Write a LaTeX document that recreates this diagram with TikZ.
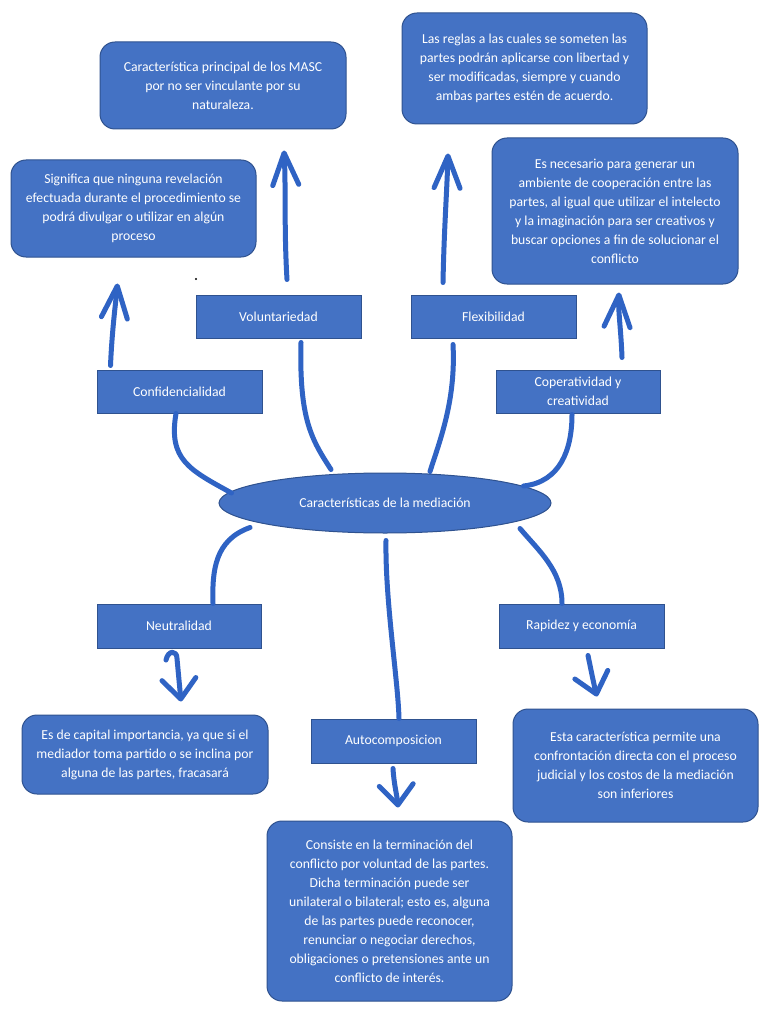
\documentclass[tikz,border=0pt]{standalone}
\usepackage{fontspec}
\setmainfont{Carlito}
\usetikzlibrary{arrows.meta,shapes.geometric,calc}
\definecolor{boxfill}{HTML}{4472C4}
\definecolor{boxline}{HTML}{2F528F}
\definecolor{pen}{HTML}{2F63C4}
\begin{document}
\begin{tikzpicture}[x=1pt,y=-1pt,
  txt/.style={text=white,font=\fontsize{13.7}{19}\selectfont,align=center,inner sep=0pt},
  rbox/.style={txt,draw=boxline,fill=boxfill,rounded corners=15pt,line width=1pt},
  sbox/.style={txt,draw=boxline,fill=boxfill,line width=1pt},
  ebox/.style={txt,ellipse,draw=boxline,fill=boxfill,line width=1pt},
  link/.style={draw=pen,line width=5pt,line cap=round,line join=round},
  uparrow/.style={link,-{Straight Barb[round,length=32pt,width=26pt]}},
  dnarrow/.style={link,-{Straight Barb[round,length=20pt,width=34pt]}}]
\useasboundingbox (0,0) rectangle (768,1024);
\fill[white] (0,0) rectangle (768,1024);

% top boxes
\node[rbox,minimum width=246pt,minimum height=87pt] (masc) at (223,85.5)
  {Característica principal de los MASC\\por no ser vinculante por su\\naturaleza.};
\node[rbox,minimum width=245pt,minimum height=97pt] (sig) at (133.5,208.5)
  {Significa que ninguna revelación\\efectuada durante el procedimiento se\\podrá divulgar o utilizar en algún\\proceso};
\node[rbox,minimum width=245pt,minimum height=111pt] (reg) at (524.5,68.5)
  {Las reglas a las cuales se someten las\\partes podrán aplicarse con libertad y\\ser modificadas, siempre y cuando\\ambas partes estén de acuerdo.};
\node[rbox,minimum width=246pt,minimum height=146pt] (nec) at (615,211)
  {Es necesario para generar un\\ambiente de cooperación entre las\\partes, al igual que utilizar el intelecto\\y la imaginación para ser creativos y\\buscar opciones a fin de solucionar el\\conflicto};

% characteristic rectangles
\node[sbox,minimum width=165pt,minimum height=43pt] (vol) at (278.5,316.5) {Voluntariedad};
\node[sbox,minimum width=165pt,minimum height=43pt] (flex) at (493.5,316.5) {Flexibilidad};
\node[sbox,minimum width=165pt,minimum height=43pt] (conf) at (179.5,391.5) {Confidencialidad};
\node[sbox,minimum width=164pt,minimum height=43pt] (coop) at (578,391.5) {Coperatividad y\\creatividad};

% center
\node[ebox,minimum width=332pt,minimum height=60pt] (med) at (385,503) {Características de la mediación};

% bottom rectangles
\node[sbox,minimum width=164pt,minimum height=44pt] (neut) at (179,626) {Neutralidad};
\node[sbox,minimum width=165pt,minimum height=44pt] (rap) at (581.5,626) {Rapidez y economía};
\node[sbox,minimum width=165pt,minimum height=44pt] (auto) at (393.5,741) {Autocomposicion};

% bottom boxes
\node[rbox,minimum width=246pt,minimum height=79pt] (cap) at (145,754.5)
  {Es de capital importancia, ya que si el\\mediador toma partido o se inclina por\\alguna de las partes, fracasará};
\node[rbox,minimum width=245pt,minimum height=113pt] (esta) at (635.5,765.5)
  {Esta característica permite una\\confrontación directa con el proceso\\judicial y los costos de la mediación\\son inferiores};
\node[rbox,minimum width=245pt,minimum height=180pt] (cons) at (389.5,911)
  {Consiste en la terminación del\\conflicto por voluntad de las partes.\\Dicha terminación puede ser\\unilateral o bilateral; esto es, alguna\\de las partes puede reconocer,\\renunciar o negociar derechos,\\obligaciones o pretensiones ante un\\conflicto de interés.};

% stray dot
\fill (196,279) circle (1.2pt);

% up arrows
\draw[uparrow] ($(conf.north)+(-69,-4)$) .. controls (112,330) and (116,300) .. ($(sig.south)+(-16,26)$);
\draw[uparrow] ($(vol.north)+(8.5,-15)$) .. controls (284,230) and (286,190) .. ($(masc.south)+(61,21)$);
\draw[uparrow] ($(flex.north)+(-50.5,-12)$) .. controls (444,230) and (447,190) .. ($(reg.south)+(-76.5,29)$);
\draw[uparrow] ($(coop.north)+(44,-12)$) .. controls (621,330) and (618,310) .. ($(nec.south)+(4,8)$);

% links into the ellipse
\draw[link] ($(vol.south)+(22.5,4)$) .. controls (299,420) and (312,440) .. ($(med.north)+(-54,-3)$);
\draw[link] ($(flex.south)+(-40.5,6)$) .. controls (456,400) and (440,440) .. ($(med.north)+(45,-1)$);
\draw[link] ($(conf.south)+(-3.5,0)$) .. controls (168,460) and (190,470) .. ($(med.west)+(13,-10)$);
\draw[link] ($(coop.south)+(-6,1)$) .. controls (572,450) and (560,482) .. ($(med.east)+(-28,-17)$);

% links out of the ellipse
\draw[link] ($(med.south)+(-135,-6)$) .. controls (215,540) and (212,570) .. ($(neut.north)+(34,0)$);
\draw[link] ($(med.south)+(1,7)$) .. controls (385,600) and (398,680) .. ($(auto.north)+(5.5,0)$);
\draw[link] ($(med.south)+(135,-5)$) .. controls (538,550) and (562,570) .. ($(rap.north)+(-19.5,0)$);

% down arrows
\draw[dnarrow] (166,660) .. controls (168,650) and (177,650) .. ($(neut.south)+(-2,10)$) -- ($(cap.north)+(36,-13)$);
\draw[dnarrow] ($(rap.south)+(6.5,7)$) .. controls (591,670) and (594,685) .. ($(esta.north)+(-38.5,-12)$);
\draw[dnarrow] ($(auto.south)+(-0.5,5)$) .. controls (394,785) and (397,795) .. ($(cons.north)+(8.5,-13)$);
\end{tikzpicture}
\end{document}
